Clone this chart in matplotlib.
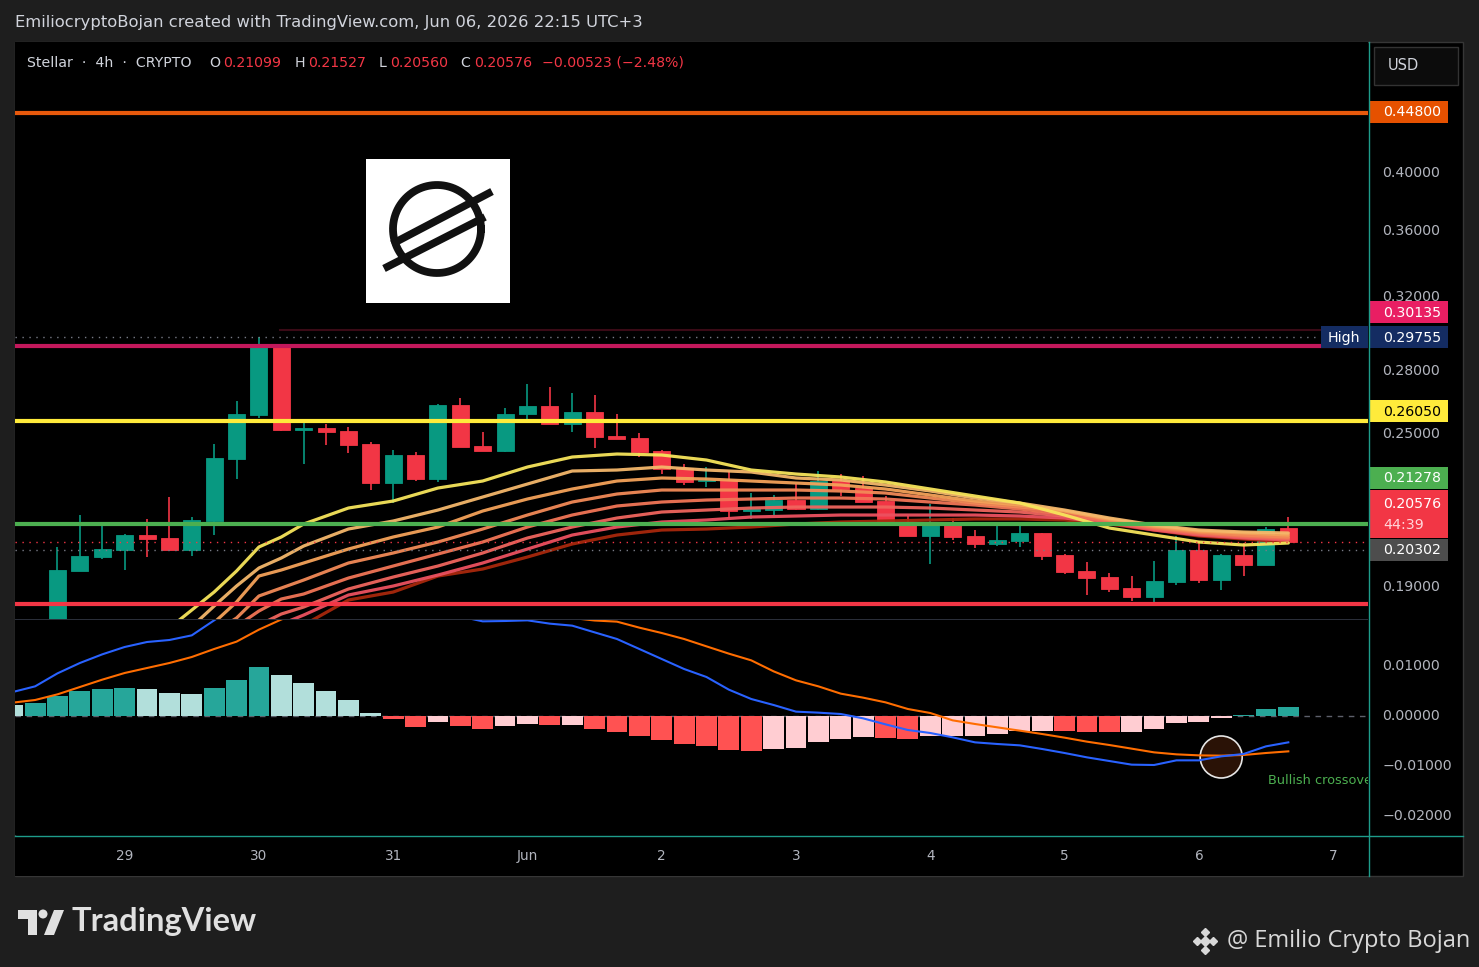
import numpy as np
import matplotlib
matplotlib.use("Agg")
import matplotlib.pyplot as plt
from matplotlib.patches import Rectangle, Ellipse, Polygon
from matplotlib.lines import Line2D

plt.rcParams['font.family'] = ['DejaVu Sans']

# ---------------- data ----------------
candle_idx = list(range(1, 57))
opens = [0.1770, 0.19538, 0.20037, 0.20290, 0.20846, 0.20734, 0.20290, 0.21376, 0.23899, 0.25869,
         0.29303, 0.25179, 0.25284, 0.25133, 0.24554, 0.22887, 0.24073, 0.23055, 0.26339, 0.24466,
         0.24245, 0.25916, 0.26291, 0.25454, 0.26009, 0.24910, 0.24820, 0.24245, 0.23515, 0.22971,
         0.23013, 0.21764, 0.21804, 0.22200, 0.21843, 0.22971, 0.22684, 0.22160, 0.21340, 0.20809,
         0.21301, 0.20809, 0.20512, 0.20622, 0.20922, 0.20110, 0.19538, 0.19329, 0.18951, 0.18647,
         0.19157, 0.20290, 0.19226, 0.20110, 0.19751, 0.21099]
highs = [0.20401, 0.21610, 0.21198, 0.20884, 0.21454, 0.22321, 0.21532, 0.24554, 0.26527, 0.29755,
         0.29393, 0.25589, 0.25454, 0.25330, 0.24654, 0.24289, 0.24203, 0.26386, 0.26672, 0.25090,
         0.26196, 0.27353, 0.27205, 0.26913, 0.26817, 0.25916, 0.25045, 0.24289, 0.23686, 0.23558,
         0.23390, 0.22482, 0.22402, 0.22849, 0.23390, 0.23264, 0.23180, 0.22361, 0.21571, 0.22042,
         0.21493, 0.21034, 0.21263, 0.21263, 0.20922, 0.20146, 0.19858, 0.19469, 0.19364, 0.19894,
         0.20809, 0.20622, 0.20146, 0.20549, 0.21148, 0.21527]
lows = [0.1750, 0.19538, 0.19976, 0.19573, 0.20037, 0.20290, 0.20073, 0.20846, 0.23055, 0.25729,
        0.25133, 0.23686, 0.24510, 0.24156, 0.22602, 0.22078, 0.22971, 0.22929, 0.24421, 0.24245,
        0.24203, 0.25589, 0.25454, 0.25090, 0.24377, 0.24775, 0.23986, 0.23264, 0.22808, 0.22726,
        0.21493, 0.21454, 0.21610, 0.21804, 0.21804, 0.22361, 0.22119, 0.21263, 0.20809, 0.19787,
        0.20659, 0.20364, 0.20438, 0.20401, 0.19930, 0.19434, 0.18714, 0.18815, 0.18513, 0.18446,
        0.19054, 0.19122, 0.18883, 0.19364, 0.19751, 0.20560]
closes = [0.19573, 0.20073, 0.20327, 0.20846, 0.20696, 0.20290, 0.21415, 0.23942, 0.25916, 0.29303,
          0.25179, 0.25284, 0.25087, 0.24510, 0.22887, 0.24073, 0.23055, 0.26339, 0.24421, 0.24245,
          0.25916, 0.26291, 0.25454, 0.26009, 0.24865, 0.24775, 0.24203, 0.23473, 0.22929, 0.23013,
          0.21764, 0.21843, 0.22200, 0.21843, 0.22971, 0.22643, 0.22119, 0.21301, 0.20809, 0.21301,
          0.20771, 0.20512, 0.20659, 0.20922, 0.20073, 0.19502, 0.19294, 0.18916, 0.18647, 0.19191,
          0.20290, 0.19226, 0.20110, 0.19751, 0.21072, 0.20576]

day_tick_idx = [4, 10, 16, 22, 28, 34, 40, 46, 52, 58]
day_tick_labels = ['29', '30', '31', 'Jun', '2', '3', '4', '5', '6', '7']

ribbon_idx = [5, 6, 7, 8, 9, 10, 11, 12, 14, 16, 18, 20, 22, 24, 26, 28, 30, 32, 34, 36,
              38, 40, 42, 44, 46, 48, 50, 52, 54, 56]
ema_1 = [0.1700, 0.17636, 0.18215, 0.18815, 0.19539, 0.20402, 0.20772, 0.21263, 0.21884, 0.22161,
         0.22685, 0.22973, 0.23559, 0.23986, 0.24116, 0.24073, 0.23857, 0.23432, 0.23264, 0.23139,
         0.22932, 0.22645, 0.22361, 0.22082, 0.21610, 0.21111, 0.20846, 0.20586, 0.20475, 0.20549]
ema_2 = [0.1650, 0.1700, 0.1768, 0.18347, 0.19019, 0.19645, 0.20002, 0.20438, 0.21073, 0.21378,
         0.21805, 0.22321, 0.22849, 0.23390, 0.23432, 0.23559, 0.23432, 0.23348, 0.23097, 0.23014,
         0.22808, 0.22563, 0.22281, 0.22082, 0.21805, 0.21494, 0.21225, 0.21035, 0.20959, 0.20922]
ema_3 = [0.1600, 0.1650, 0.1700, 0.1781, 0.18480, 0.19364, 0.19575, 0.19823, 0.20328, 0.20772,
         0.21149, 0.21766, 0.22241, 0.22645, 0.22973, 0.23097, 0.23056, 0.22973, 0.22890, 0.22808,
         0.22645, 0.22402, 0.22161, 0.22002, 0.21766, 0.21455, 0.21187, 0.20997, 0.20922, 0.20846]
ema_4 = [0.1580, 0.1620, 0.1680, 0.1751, 0.17955, 0.18681, 0.18951, 0.19225, 0.19823, 0.20183,
         0.20586, 0.21073, 0.21610, 0.22121, 0.22442, 0.22604, 0.22604, 0.22604, 0.22604, 0.22563,
         0.22482, 0.22281, 0.22082, 0.21923, 0.21766, 0.21417, 0.21149, 0.20959, 0.20846, 0.20772]
ema_5 = [0.1560, 0.1600, 0.1650, 0.1700, 0.1769, 0.18183, 0.18580, 0.18748, 0.19294, 0.19716,
         0.20146, 0.20586, 0.21149, 0.21610, 0.21963, 0.22121, 0.22201, 0.22241, 0.22281, 0.22281,
         0.22241, 0.22121, 0.22002, 0.21845, 0.21649, 0.21378, 0.21111, 0.20922, 0.20809, 0.20734]
ema_6 = [0.1540, 0.1580, 0.1620, 0.1660, 0.1700, 0.1773, 0.18085, 0.18314, 0.18917, 0.19329,
         0.19716, 0.20183, 0.20734, 0.21149, 0.21494, 0.21727, 0.21805, 0.21884, 0.21923, 0.21923,
         0.21923, 0.21884, 0.21805, 0.21727, 0.21571, 0.21340, 0.21073, 0.20884, 0.20772, 0.20697]
ema_7 = [0.1520, 0.1560, 0.1600, 0.1640, 0.1680, 0.1720, 0.1776, 0.18052, 0.18714, 0.19019,
         0.19399, 0.19823, 0.20328, 0.20846, 0.21149, 0.21340, 0.21417, 0.21533, 0.21571, 0.21610,
         0.21610, 0.21610, 0.21610, 0.21571, 0.21494, 0.21301, 0.21035, 0.20846, 0.20734, 0.20660]
ema_8 = [0.1500, 0.1540, 0.1580, 0.1620, 0.1660, 0.1690, 0.1720, 0.17731, 0.18547, 0.18815,
         0.19364, 0.19610, 0.20038, 0.20512, 0.20846, 0.21035, 0.21073, 0.21149, 0.21263, 0.21340,
         0.21378, 0.21417, 0.21455, 0.21455, 0.21417, 0.21263, 0.21035, 0.20809, 0.20697, 0.20586]

macd_idx = list(range(-1, 57))
macd_line = [0.0048, 0.00593, 0.00853, 0.0106, 0.01233, 0.0138, 0.0148, 0.0152, 0.01613, 0.01913,
             0.0221, 0.0271, 0.0276, 0.0277, 0.0274, 0.0264, 0.0239, 0.0224, 0.0204, 0.0212,
             0.0199, 0.01893, 0.0190, 0.01913, 0.01847, 0.01807, 0.01673, 0.0154, 0.0134, 0.0114,
             0.0094, 0.0078, 0.00527, 0.0034, 0.0022, 0.00087, 0.00067, 0.0004, -0.00047, -0.00167,
             -0.0028, -0.0034, -0.00427, -0.00527, -0.0056, -0.00587, -0.0066, -0.0074, -0.00827, -0.009,
             -0.00973, -0.0098, -0.00887, -0.00887, -0.00807, -0.0076, -0.00607, -0.00527]
signal_line = [0.00267, 0.0032, 0.00433, 0.0058, 0.00727, 0.0086, 0.0096, 0.0106, 0.0118, 0.0134,
               0.01487, 0.01727, 0.0193, 0.0210, 0.0223, 0.0231, 0.0233, 0.0231, 0.0226, 0.0223,
               0.0218, 0.0212, 0.0207, 0.0204, 0.0200, 0.0196, 0.0191, 0.01887, 0.01767, 0.0166,
               0.0154, 0.01393, 0.01247, 0.01113, 0.00893, 0.00713, 0.00593, 0.00447, 0.00367, 0.00273,
               0.0014, 0.0006, -0.00087, -0.0016, -0.00227, -0.00293, -0.0036, -0.00433, -0.00513, -0.0058,
               -0.00653, -0.00727, -0.00767, -0.00787, -0.00793, -0.0078, -0.0074, -0.00707]
macd_hist = [0.00227, 0.00267, 0.00407, 0.00507, 0.00547, 0.00567, 0.00547, 0.00467, 0.00447, 0.00567,
             0.00727, 0.00987, 0.00827, 0.00667, 0.00507, 0.00327, 0.00067, -0.00067, -0.00213, -0.00113,
             -0.00193, -0.00253, -0.00193, -0.00153, -0.00175, -0.0017, -0.00253, -0.00313, -0.00393, -0.00473,
             -0.00553, -0.00593, -0.00673, -0.00693, -0.00653, -0.00633, -0.00513, -0.00453, -0.00413, -0.00433,
             -0.00453, -0.0040, -0.00395, -0.0039, -0.0035, -0.00295, -0.0029, -0.00305, -0.00312, -0.00318,
             -0.0031, -0.0025, -0.00133, -0.00113, -0.00033, 0.00027, 0.00147, 0.00187]

price_ticks = [0.40, 0.36, 0.32, 0.28, 0.25, 0.19]
macd_ticks = [0.01, 0.0, -0.01, -0.02]

level_orange = 0.4453
level_magenta = 0.2929
level_dark = 0.30135
level_high = 0.29755
level_yellow = 0.2559
level_green = 0.21278
level_red = 0.18413
last_close = 0.20576
prev_close = 0.20302

crossover_center = (53, -0.0082)

# ---------------- figure ----------------
W, H = 1479, 967
fig = plt.figure(figsize=(W / 100, H / 100), dpi=100)
fig.patch.set_facecolor('#1e1e1e')


def frect(x0, y0, x1, y1, zorder=0, **kw):
    r = Rectangle((x0 / W, 1 - y1 / H), (x1 - x0) / W, (y1 - y0) / H,
                  transform=fig.transFigure, zorder=zorder, **kw)
    fig.add_artist(r)
    return r


def fline(x0, y0, x1, y1, **kw):
    fig.add_artist(Line2D([x0 / W, x1 / W], [1 - y0 / H, 1 - y1 / H],
                          transform=fig.transFigure, **kw))


def ftext(x, y, s, **kw):
    return fig.text(x / W, 1 - y / H, s, **kw)


def axes_px(x0, y0, x1, y1):
    a = fig.add_axes([x0 / W, 1 - y1 / H, (x1 - x0) / W, (y1 - y0) / H])
    a.set_facecolor('black')
    a.set_xticks([])
    a.set_yticks([])
    for s in a.spines.values():
        s.set_visible(False)
    return a


XL = (-0.899, 59.56)
UP, DOWN = '#089981', '#f23645'

frect(15, 42, 1463, 876, zorder=-5, fc='black', ec='#363636', lw=1)

# ---- price pane
ax = axes_px(15, 42, 1368, 619)
ax.set_yscale('log')
ax.yaxis.set_minor_locator(matplotlib.ticker.NullLocator())
ax.set_yticks([])
ax.set_xlim(*XL)
ax.set_ylim(0.17924, 0.50598)

cols = [UP if c >= o else DOWN for o, c in zip(opens, closes)]
ax.vlines(candle_idx, lows, highs, colors=cols, lw=1.2, zorder=2)
bodies_b = [min(o, c) for o, c in zip(opens, closes)]
bodies_h = [abs(c - o) for o, c in zip(opens, closes)]
ax.bar(candle_idx, bodies_h, bottom=bodies_b, width=0.76, color=cols, edgecolor=cols,
       linewidth=0.6, zorder=3)

ribbon = [ema_8, ema_7, ema_6, ema_5, ema_4, ema_3, ema_2, ema_1]
ribbon_cols = ['#a8280c', '#ec5160', '#f0655e', '#f27556', '#f38a57', '#f5a259', '#f5b86b', '#f7e55b']
for vals, col in zip(ribbon, ribbon_cols):
    ax.plot(ribbon_idx, vals, color=col, lw=2.3, zorder=4, solid_capstyle='round', alpha=0.95)

ax.axhline(level_orange, color='#e8590c', lw=3, zorder=6)
ax.hlines(level_dark, 10.9, XL[1], color='#3a0a16', lw=1.5, zorder=5)
ax.axhline(level_high, color='#787b86', lw=1, ls=(0, (1, 4)), zorder=5)
ax.axhline(level_magenta, color='#c2185b', lw=3, zorder=6)
ax.axhline(level_yellow, color='#ffeb3b', lw=3, zorder=6)
ax.axhline(level_green, color='#4caf50', lw=3, zorder=6)
ax.axhline(level_red, color='#f23645', lw=3, zorder=6)
ax.axhline(last_close, color='#f23645', lw=1, ls=(0, (1, 4)), zorder=5)
ax.axhline(prev_close, color='#787b86', lw=1, ls=(0, (1, 4)), zorder=5)

# ---- MACD pane
ax2 = axes_px(15, 620, 1368, 835)
ax2.set_xlim(*XL)
ax2.set_ylim(-0.0238, 0.0192)
hcols = []
prev = None
for v in macd_hist:
    rising = prev is not None and v > prev
    if v >= 0:
        hcols.append('#26a69a' if rising else '#b2dfdb')
    else:
        hcols.append('#ffcdd2' if rising else '#ff5252')
    prev = v
ax2.axhline(0, color='#5d606b', lw=1, ls=(0, (4, 4)), zorder=1)
ax2.bar(macd_idx, macd_hist, width=0.93, color=hcols, lw=0, zorder=2)
ax2.add_patch(Ellipse(crossover_center, 42 / 22.378, 0.0084, fc='#2a1206', ec='#e6e6e6',
                      lw=1.2, zorder=3))
ax2.plot(macd_idx, signal_line, color='#ff6d00', lw=1.5, zorder=4)
ax2.plot(macd_idx, macd_line, color='#2962ff', lw=1.5, zorder=5)
ax2.text(55.1, -0.013, 'Bullish crossover', color='#4caf50', fontsize=9.3,
         ha='left', va='center', clip_on=True, zorder=6)

# ---- time axis
ax3 = axes_px(15, 836, 1368, 876)
ax3.set_xlim(*XL)
ax3.set_ylim(0, 1)
for i, lab in zip(day_tick_idx, day_tick_labels):
    ax3.text(i, 0.5, lab, color='#b2b5be', fontsize=9.8, ha='center', va='center')

# separators
frect(15, 619, 1368, 620, zorder=2, fc='#2a2e39', ec='none')
fline(15, 835.5, 1463, 835.5, color='#1e9c8a', lw=1, zorder=8)
fline(1368.5, 42, 1368.5, 876, color='#1e9c8a', lw=1, zorder=8)


def py_price(p):
    return H - ax.transData.transform((0, p))[1]


def py_macd(v):
    return H - ax2.transData.transform((0, v))[1]


AX_FS = 10.2
for t in price_ticks:
    ftext(1382, py_price(t), f'{t:.5f}', color='#b2b5be', fontsize=AX_FS, ha='left', va='center',
          zorder=3)
for t in macd_ticks:
    s = f'{t:.5f}'.replace('-', '\u2212')
    ftext(1382, py_macd(t), s, color='#b2b5be', fontsize=AX_FS, ha='left', va='center', zorder=3)


def tag(text, p, fc, tc, h=22):
    y = py_price(p)
    frect(1369, y - h / 2, 1448, y + h / 2, zorder=6, fc=fc, ec='none')
    ftext(1383, y + 0.5, text, color=tc, fontsize=AX_FS, ha='left', va='center', zorder=7)


tag('0.44800', 0.4465, '#e65100', 'white')
tag('0.30135', 0.3113, '#e91e63', 'white')
tag('0.29755', level_high, '#142c62', 'white')
y_hi = py_price(level_high)
frect(1321, y_hi - 11, 1368, y_hi + 11, zorder=6, fc='#142c62', ec='none')
ftext(1344, y_hi + 0.5, 'High', color='white', fontsize=AX_FS, ha='center', va='center', zorder=7)
tag('0.26050', 0.2605, '#ffeb3b', 'black')
tag('0.21278', 0.2310, '#4caf50', 'white')
frect(1369, 490, 1448, 538, zorder=6, fc='#f23645', ec='none')
ftext(1383, 504, '0.20576', color='white', fontsize=AX_FS, ha='left', va='center', zorder=7)
ftext(1383, 525, '44:39', color='#ffd6da', fontsize=AX_FS, ha='left', va='center', zorder=7)
tag('0.20302', prev_close, '#4d4d4d', 'white')

# USD button
frect(1374, 47, 1458, 85, zorder=6, fc='#0c0c0c', ec='#333333', lw=1)
ftext(1388, 66, 'USD', color='#d1d4dc', fontsize=10.5, ha='left', va='center', zorder=7)

# header
ftext(15, 22, 'EmiliocryptoBojan created with TradingView.com, Jun 06, 2026 22:15 UTC+3',
      color='#d1d4dc', fontsize=11.75, ha='left', va='center')

# legend line
LG = '#d1d4dc'
LR = '#f23645'
LFS = 10.2
legend_parts = [(27, 'Stellar  \u00b7  4h  \u00b7  CRYPTO', LG), (209, 'O', LG), (223, '0.21099', LR),
                (295, 'H', LG), (308, '0.21527', LR), (379, 'L', LG), (390, '0.20560', LR),
                (460, 'C', LG), (474, '0.20576', LR), (542, '\u22120.00523 (\u22122.48%)', LR)]
for x, s, c in legend_parts:
    ftext(x, 63, s, color=c, fontsize=LFS, ha='left', va='center', zorder=7)

# Stellar logo
lax = fig.add_axes([366 / W, 1 - 303 / H, 144 / W, 144 / H])
lax.set_xlim(0, 144)
lax.set_ylim(144, 0)
lax.set_xticks([])
lax.set_yticks([])
for s in lax.spines.values():
    s.set_visible(False)
lax.set_facecolor('white')
INK = '#111111'
th = np.linspace(0, 2 * np.pi, 200)
lax.plot(71 + 44 * np.cos(th), 70 + 44 * np.sin(th), color=INK, lw=5.6)


def band(p0, p1, h, color):
    d = np.array(p1, float) - np.array(p0, float)
    d /= np.hypot(*d)
    n = np.array([-d[1], d[0]]) * h
    pts = [np.array(p0) - n, np.array(p1) - n, np.array(p1) + n, np.array(p0) + n]
    lax.add_patch(Polygon(pts, closed=True, fc=color, ec='none'))


band((24, 86), (127, 32), 7.0, 'white')
band((26, 85), (126, 32.5), 3.8, INK)
band((17, 110), (121, 57), 7.0, 'white')
band((18, 109.5), (119, 58), 3.8, INK)

# TradingView logo
LOGO = '#e0e0e0'
fig.add_artist(Polygon([(18 / W, 1 - 910 / H), (37 / W, 1 - 910 / H), (37 / W, 1 - 935 / H),
                        (28 / W, 1 - 935 / H), (28 / W, 1 - 919 / H), (18 / W, 1 - 919 / H)],
                       closed=True, transform=fig.transFigure, fc=LOGO, ec='none'))
fig.add_artist(Ellipse((43 / W, 1 - 914 / H), 9 / W, 9 / H, transform=fig.transFigure,
                       fc=LOGO, ec='none'))
fig.add_artist(Polygon([(44 / W, 1 - 935 / H), (54 / W, 1 - 910 / H), (64 / W, 1 - 910 / H),
                        (54 / W, 1 - 935 / H)], closed=True, transform=fig.transFigure,
                       fc=LOGO, ec='none'))
ftext(72, 922, 'TradingView', color=LOGO, fontsize=23.5, fontweight='bold', ha='left', va='center',
      family=['Lato', 'DejaVu Sans'])

# signature
ftext(1470, 941, '@ Emilio Crypto Bojan', color='#d8d8d8', fontsize=17, ha='right',
      va='center', family=['Open Sans', 'DejaVu Sans'])
for dx, dy, s in [(0, 0, 5), (-8, 0, 4), (8, 0, 4), (0, -9, 4), (0, 9, 4)]:
    fig.add_artist(Line2D([(1205 + dx) / W], [1 - (941 + dy) / H], marker='D', ms=s,
                          color='#d8d8d8', transform=fig.transFigure, ls='none'))

fig.savefig('out.png', dpi=100, facecolor=fig.get_facecolor())
